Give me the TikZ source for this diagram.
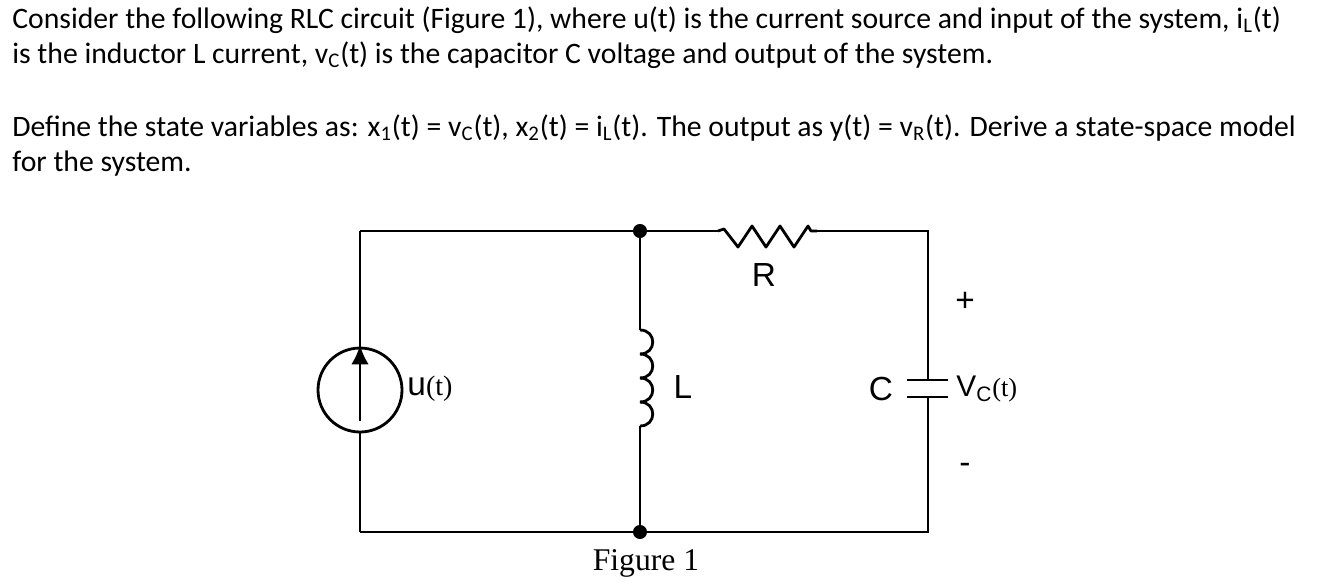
\documentclass[tikz,border=0pt]{standalone}
\usepackage{fontspec}
\usetikzlibrary{arrows.meta}
\setmainfont{Carlito}
\newfontfamily\arialf{Liberation Sans}
\newfontfamily\timesf{Liberation Serif}
\begin{document}
\begin{tikzpicture}[x=0.02cm, y=-0.02cm,
    wire/.style={line width=1.6pt},
    para/.style={anchor=base west, inner sep=0pt, font=\fontsize{16.9}{20}\selectfont},
    lbl/.style={inner sep=0pt, font=\arialf\fontsize{19}{22}\selectfont}]

    \useasboundingbox (0,0) rectangle (1327,583);

    % Problem text
    \node[para] (t1) at (12,28) {Consider the following RLC circuit (Figure 1), where u(t) is the current source and input of the system, i\textsubscript{L}(t)};
    \node[para] (t2) at (12,63) {is the inductor L current, v\textsubscript{C}(t) is the capacitor C voltage and output of the system.};
    \node[para] (t3) at (12,136) {Define the state variables as: x\textsubscript{1}(t) = v\textsubscript{C}(t), x\textsubscript{2}(t) = i\textsubscript{L}(t). The output as y(t) = v\textsubscript{R}(t). Derive a state-space model};
    \node[para] (t4) at (12,171) {for the system.};

    % Corners and junctions
    \coordinate (tl) at (360,231);
    \coordinate (bl) at (360,532);
    \coordinate (tm) at (640,231);
    \coordinate (bm) at (640,532);
    \coordinate (tr) at (928,231);
    \coordinate (br) at (928,532);

    % Current source
    \node[circle, draw, line width=1.6pt, minimum size=1.68cm, inner sep=0pt] (src) at (360,390) {};
    \draw[wire] (tl) -- (src.north);
    \draw[wire] (src.south) -- (bl);
    \draw[line width=1.6pt, -{Latex[length=11pt,width=10pt]}] (360,421) -- (360,345);

    % Wires
    \draw[wire] (bl) -- (br) -- (928,397);
    \draw[wire] (tl) -- (718,231);
    \draw[wire] (817,231) -- (tr) -- (928,380);
    \fill (tm) circle (4pt);
    \fill (bm) circle (4pt);

    % Inductor
    \draw[wire] (tm) -- (640,330);
    \foreach \k in {0,1,2,3} {
        \draw[wire] (640,330+24*\k) .. controls (657,330+24*\k) and (657,354+24*\k) .. (640,354+24*\k);
    }
    \draw[wire] (640,426) -- (bm);

    % Resistor
    \draw[wire, line join=round] (718,231) -- (724,229) -- (738,247) -- (752,226) -- (766,247)
        -- (780,226) -- (794,247) -- (808,226) -- (811,231) -- (817,231);

    % Capacitor
    \draw[wire] (907,380) -- (948,380);
    \draw[wire] (907,397) -- (948,397);

    % Labels
    \node[lbl] (lu) at (430,389) {u\timesf\fontsize{16}{18}\selectfont(t)};
    \node[lbl] (lL) at (683,387) {L};
    \node[lbl] (lR) at (764,275) {R};
    \node[lbl] (lC) at (881,389) {C};
    \node[lbl, anchor=west, font=\arialf\fontsize{17}{20}\selectfont] (lV) at (956,389) {V\textsubscript{C}\timesf\fontsize{15}{18}\selectfont(t)};
    \node[lbl] (lp) at (965,302) {+};
    \node[lbl] (lm) at (965,468) {-};
    \node[inner sep=0pt, font=\timesf\fontsize{18}{20}\selectfont] (fig) at (646,563) {Figure 1};

\end{tikzpicture}
\end{document}
